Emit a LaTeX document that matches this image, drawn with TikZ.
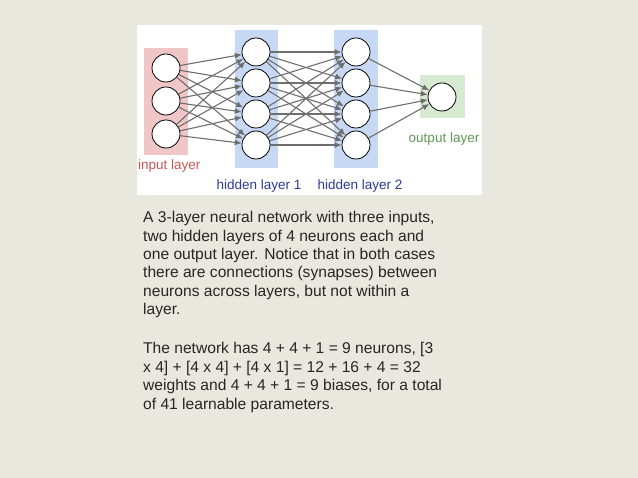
\documentclass[tikz,border=0pt]{standalone}
\usepackage{fontspec}
\setmainfont{Liberation Sans}
\usetikzlibrary{arrows.meta}
\definecolor{bg}{HTML}{E9E8DF}
\definecolor{inred}{HTML}{F1C6C6}
\definecolor{hblue}{HTML}{C6D8F4}
\definecolor{ogreen}{HTML}{D6EAD2}
\definecolor{lred}{HTML}{C85555}
\definecolor{lblue}{HTML}{2E3A98}
\definecolor{lgreen}{HTML}{5E9A50}
\definecolor{edge}{HTML}{6E6E6E}
\begin{document}
\begin{tikzpicture}[x=1bp,y=-1bp,
  neuron/.style={circle,draw=black,thick,fill=white,minimum size=28bp,inner sep=0},
  conn/.style={draw=edge,line width=1.1pt,-{Latex[length=7bp,width=6bp]}},
  txt/.style={anchor=west,font=\fontsize{15.6bp}{18bp}\selectfont,inner sep=0,text=black!85},
  lab/.style={font=\fontsize{13.5bp}{15bp}\selectfont,inner sep=0}]
\fill[bg] (0,0) rectangle (638,478);
\fill[white] (137,25) rectangle (482,195);
\fill[inred] (144,48) rectangle (188,155);
\fill[hblue] (235,30) rectangle (278,168);
\fill[hblue] (334,30) rectangle (378,168);
\fill[ogreen] (420,75) rectangle (465,118);
\foreach \i/\y in {1/68,2/101,3/134} \node[neuron] (i\i) at (166,\y) {};
\foreach \i/\y in {1/52,2/83,3/114,4/145} {
  \node[neuron] (a\i) at (256,\y) {};
  \node[neuron] (b\i) at (356,\y) {};
}
\node[neuron] (o) at (442,97) {};
\foreach \s in {1,2,3} \foreach \t in {1,2,3,4} \draw[conn] (i\s) -- (a\t);
\foreach \s in {1,2,3,4} \foreach \t in {1,2,3,4} \draw[conn] (a\s) -- (b\t);
\foreach \s in {1,2,3,4} \draw[conn] (b\s) -- (o);
\node[lab,text=lred,anchor=west] (li) at (138,166) {input layer};
\node[lab,text=lblue] (lh1) at (259,186) {hidden layer 1};
\node[lab,text=lblue] (lh2) at (360,186) {hidden layer 2};
\node[lab,text=lgreen] (lo) at (444,139) {output layer};
\node[txt] (t1) at (143,218) {A 3-layer neural network with three inputs,};
\node[txt] (t2) at (143,237) {two hidden layers of 4 neurons each and};
\node[txt] (t3) at (143,255) {one output layer. Notice that in both cases};
\node[txt] (t4) at (143,273) {there are connections (synapses) between};
\node[txt] (t5) at (143,292) {neurons across layers, but not within a};
\node[txt] (t6) at (143,310) {layer.};
\node[txt] (p1) at (143,349) {The network has 4 + 4 + 1 = 9 neurons, [3};
\node[txt] (p2) at (143,368) {x 4] + [4 x 4] + [4 x 1] = 12 + 16 + 4 = 32};
\node[txt] (p3) at (143,386) {weights and 4 + 4 + 1 = 9 biases, for a total};
\node[txt] (p4) at (143,405) {of 41 learnable parameters.};
\end{tikzpicture}
\end{document}
